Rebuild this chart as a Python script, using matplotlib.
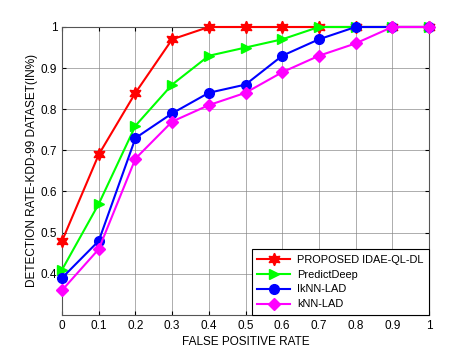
"""
Detection rate vs false positive rate on KDD-99
"""

import matplotlib
matplotlib.use("Agg")
from matplotlib import pyplot as plt

plt.rcParams["font.family"] = ["Liberation Sans", "DejaVu Sans"]

FPR = [0, 0.1, 0.2, 0.3, 0.4, 0.5, 0.6, 0.7, 0.8, 0.9, 1.0]

PROPOSED = [0.48, 0.69, 0.84, 0.97, 1.0, 1.0, 1.0, 1.0, 1.0, 1.0, 1.0]
PREDICT_DEEP = [0.41, 0.57, 0.76, 0.86, 0.93, 0.95, 0.97, 1.0, 1.0, 1.0, 1.0]
IKNN_LAD = [0.39, 0.48, 0.73, 0.79, 0.84, 0.86, 0.93, 0.97, 1.0, 1.0, 1.0]
KNN_LAD = [0.36, 0.46, 0.68, 0.77, 0.81, 0.84, 0.89, 0.93, 0.96, 1.0, 1.0]

LABELS = ["PROPOSED IDAE-QL-DL", "PredictDeep", "IkNN-LAD", "kNN-LAD"]


def plot_detection_rate():
    fig = plt.figure(figsize=(4.74, 3.55), dpi=100)
    a_x = fig.add_axes([0.131, 0.113, 0.774, 0.811])

    series = [PROPOSED, PREDICT_DEEP, IKNN_LAD, KNN_LAD]
    colors = ["#ff0000", "#00ff00", "#0000ff", "#ff00ff"]
    markers = [(6, 1, 0), ">", "o", "D"]
    sizes = [9, 7, 7, 6]

    for values, label, color, marker, size in zip(series, LABELS, colors, markers, sizes):
        a_x.plot(FPR, values, color=color, marker=marker, markersize=size,
                 linewidth=1.5, label=label, clip_on=False, zorder=3)

    a_x.set_xlim(0, 1)
    a_x.set_ylim(0.3, 1)
    a_x.set_xticks(FPR)
    a_x.set_xticklabels(["0", "0.1", "0.2", "0.3", "0.4", "0.5", "0.6", "0.7",
                         "0.8", "0.9", "1"])
    a_x.set_yticks([0.4, 0.5, 0.6, 0.7, 0.8, 0.9, 1.0])
    a_x.set_yticklabels(["0.4", "0.5", "0.6", "0.7", "0.8", "0.9", "1"])
    a_x.tick_params(labelsize=8.5, direction="in", length=3, right=True, top=True)
    a_x.grid(color="#888888", linestyle="-", linewidth=0.6, alpha=0.8)
    for spine in a_x.spines.values():
        spine.set_color("#555555")

    a_x.set_xlabel("FALSE POSITIVE RATE", fontsize=8.5, labelpad=3)
    a_x.set_ylabel("DETECTION RATE-KDD-99 DATASET(IN%)", fontsize=8.5, labelpad=2)

    leg = a_x.legend(loc="lower right", fontsize=7.9, fancybox=False,
                     framealpha=1, edgecolor="black", borderaxespad=0,
                     handlelength=3.0, labelspacing=0.45, borderpad=0.5,
                     handletextpad=0.6)
    leg.get_frame().set_linewidth(0.8)
    leg.set_zorder(5)

    plt.savefig("out.png", dpi=100)


def main():
    plot_detection_rate()


if __name__ == "__main__":
    main()
